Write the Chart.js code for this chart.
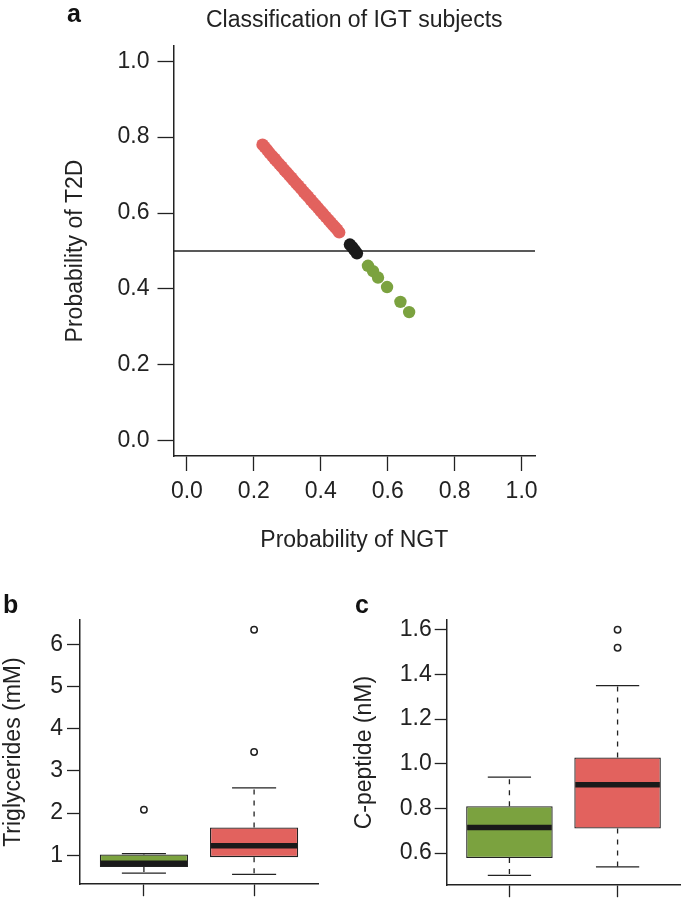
<!DOCTYPE html>
<html>
<head>
<meta charset="utf-8">
<title>Classification of IGT subjects</title>
<script src="https://cdn.jsdelivr.net/npm/chart.js@4.4.1/dist/chart.umd.min.js"></script>
<style>
  body { margin: 0; background: #fff; }
  #pagina { position: relative; width: 685px; height: 902px; overflow: hidden; }
  .panel { position: absolute; }
  .letra { position: absolute; font-family: "Liberation Sans", Arial, sans-serif; font-weight: bold; font-size: 25px; line-height: 1; color: #111; }
</style>
</head>
<body>
<div id="pagina">
  <canvas id="graficaA" class="panel" width="685" height="570" style="left:0;top:0"></canvas>
  <canvas id="graficaB" class="panel" width="340" height="322" style="left:0;top:580px"></canvas>
  <canvas id="graficaC" class="panel" width="345" height="322" style="left:340px;top:580px"></canvas>
  <div class="letra" style="left:67px;top:1px">a</div>
  <div class="letra" style="left:3px;top:592px">b</div>
  <div class="letra" style="left:355px;top:592px">c</div>
</div>
<script>
const ROJO = "#E2625E";
const VERDE = "#7BA23F";
const NEGRO = "#1A1A1A";
const TINTA = "#222";

// --- a: probabilidades (x = NGT, y = T2D)
const probTicks = [0, 0.2, 0.4, 0.6, 0.8, 1.0];
const probRango = [-0.04, 1.04];
const umbral = 0.5;

const t2dNgt = [0.226, 0.232, 0.240, 0.247, 0.255, 0.262, 0.268, 0.276, 0.283, 0.291, 0.298,
                0.305, 0.312, 0.318, 0.326, 0.333, 0.341, 0.349, 0.356, 0.362, 0.370, 0.378,
                0.385, 0.392, 0.400, 0.407, 0.415, 0.423, 0.430, 0.437, 0.443, 0.449, 0.455];
const t2dT2d = [0.780, 0.774, 0.766, 0.758, 0.750, 0.743, 0.737, 0.729, 0.722, 0.714, 0.707,
                0.700, 0.693, 0.687, 0.679, 0.672, 0.664, 0.656, 0.649, 0.643, 0.635, 0.627,
                0.620, 0.613, 0.605, 0.598, 0.590, 0.582, 0.575, 0.568, 0.562, 0.556, 0.549];
const bordeNgt = [0.487, 0.494, 0.501, 0.508];
const bordeT2d = [0.517, 0.510, 0.502, 0.494];
const ngtNgt = [0.541, 0.556, 0.571, 0.598, 0.638, 0.664];
const ngtT2d = [0.461, 0.447, 0.430, 0.405, 0.366, 0.339];

// --- b, c: diagramas de cajas (grupo 1 = NGT, grupo 2 = T2D)
const grupos = ["NGT", "T2D"];
const coloresGrupo = [VERDE, ROJO];
const cajasRango = [0.42, 2.58];

const trigTicks = [1, 2, 3, 4, 5, 6];
const trigMin = [0.575, 0.545];
const trigQ1 = [0.72, 0.955];
const trigMed = [0.81, 1.225];
const trigQ3 = [1.02, 1.66];
const trigMax = [1.04, 2.6];
const trigAtipGrupo = [1, 2, 2];
const trigAtipValor = [2.08, 3.45, 6.35];

const cpepTicks = [0.6, 0.8, 1.0, 1.2, 1.4, 1.6];
const cpepMin = [0.50, 0.538];
const cpepQ1 = [0.578, 0.71];
const cpepMed = [0.715, 0.906];
const cpepQ3 = [0.81, 1.028];
const cpepMax = [0.94, 1.35];
const cpepAtipGrupo = [2, 2];
const cpepAtipValor = [1.52, 1.60];

Chart.defaults.font.family = '"Liberation Sans", Arial, Helvetica, sans-serif';
Chart.defaults.font.size = 23;
Chart.defaults.color = TINTA;

function unir(xs, ys) {
    return xs.map((x, i) => ({ x: x, y: ys[i] }));
}

function linea(ctx, x1, y1, x2, y2) {
    ctx.beginPath();
    ctx.moveTo(x1, y1);
    ctx.lineTo(x2, y2);
    ctx.stroke();
}

// dibuja bigotes, topes y mediana sobre las barras flotantes (q1..q3)
function pluginBigotes(est) {
    return {
        id: "bigotes",
        afterDatasetsDraw(chart) {
            const { ctx } = chart;
            const x = chart.scales.x;
            const y = chart.scales.y;
            const barras = chart.getDatasetMeta(1).data;
            ctx.save();
            est.q1.forEach((_, i) => {
                const cx = x.getPixelForValue(i + 1);
                const ancho = barras[i].width;
                ctx.strokeStyle = TINTA;
                ctx.lineWidth = 1.3;
                ctx.setLineDash([5, 6]);
                linea(ctx, cx, y.getPixelForValue(est.q3[i]), cx, y.getPixelForValue(est.max[i]));
                linea(ctx, cx, y.getPixelForValue(est.q1[i]), cx, y.getPixelForValue(est.min[i]));
                ctx.setLineDash([]);
                const yMax = y.getPixelForValue(est.max[i]);
                const yMin = y.getPixelForValue(est.min[i]);
                linea(ctx, cx - ancho / 4, yMax, cx + ancho / 4, yMax);
                linea(ctx, cx - ancho / 4, yMin, cx + ancho / 4, yMin);
                const yMed = y.getPixelForValue(est.med[i]);
                ctx.strokeStyle = NEGRO;
                ctx.lineWidth = 5.5;
                linea(ctx, cx - ancho / 2 + 1, yMed, cx + ancho / 2 - 1, yMed);
            });
            ctx.restore();
        }
    };
}

function crearDispersion() {
    const ctx = document.getElementById("graficaA");
    const punto = { pointRadius: 6.2, pointHoverRadius: 6.2, borderWidth: 0 };

    new Chart(ctx, {
        type: "scatter",
        data: {
            datasets: [
                Object.assign({ data: unir(t2dNgt, t2dT2d), backgroundColor: ROJO }, punto),
                Object.assign({ data: unir(bordeNgt, bordeT2d), backgroundColor: NEGRO }, punto),
                Object.assign({ data: unir(ngtNgt, ngtT2d), backgroundColor: VERDE }, punto),
                {
                    type: "line",
                    data: unir(probRango, [umbral, umbral]),
                    borderColor: TINTA,
                    borderWidth: 1.3,
                    pointRadius: 0,
                    fill: false
                }
            ]
        },
        options: {
            responsive: false,
            animation: false,
            layout: { padding: { left: 61.5, top: 0, right: 150, bottom: 0 } },
            plugins: {
                legend: { display: false },
                tooltip: { enabled: false },
                title: {
                    display: true,
                    text: "Classification of IGT subjects",
                    fullSize: false,
                    color: TINTA,
                    font: { size: 23, weight: "normal" },
                    padding: { top: 7.2, bottom: 11.2 }
                }
            },
            scales: {
                x: {
                    type: "linear",
                    min: probRango[0],
                    max: probRango[1],
                    bounds: "data",
                    afterBuildTicks: eje => { eje.ticks = probTicks.map(v => ({ value: v })); },
                    afterFit: eje => { eje.height = 114; },
                    grid: { drawOnChartArea: false, tickLength: 15, tickWidth: 1.3, tickColor: TINTA },
                    border: { color: TINTA, width: 1.5 },
                    ticks: { padding: 7.2, autoSkip: false, maxRotation: 0, callback: v => v.toFixed(1) },
                    title: { display: true, text: "Probability of NGT", padding: { top: 0, bottom: 15.7 } }
                },
                y: {
                    type: "linear",
                    min: probRango[0],
                    max: probRango[1],
                    bounds: "data",
                    afterBuildTicks: eje => { eje.ticks = probTicks.map(v => ({ value: v })); },
                    afterFit: eje => { eje.width = 112; },
                    grid: { drawOnChartArea: false, tickLength: 16, tickWidth: 1.3, tickColor: TINTA },
                    border: { color: TINTA, width: 1.5 },
                    ticks: { padding: 8, autoSkip: false, callback: v => v.toFixed(1) },
                    title: { display: true, text: "Probability of T2D", padding: { top: 0, bottom: 0 } }
                }
            }
        }
    });
}

function crearDiagramaCajas(idCanvas, est, ticks, titulo, medidas) {
    const ctx = document.getElementById(idCanvas);
    if (!ctx) {
        console.warn("No se encontró el canvas:", idCanvas);
        return;
    }

    // rango del eje como en R: datos +/- 4%
    const todos = est.min.concat(est.max, est.atipValor);
    const lo = Math.min(...todos);
    const hi = Math.max(...todos);
    const margen = (hi - lo) * 0.04;

    new Chart(ctx, {
        type: "bar",
        data: {
            datasets: [
                {
                    type: "scatter",
                    data: unir(est.atipGrupo, est.atipValor),
                    pointRadius: 3.2,
                    pointHoverRadius: 3.2,
                    borderColor: TINTA,
                    borderWidth: 1.5,
                    backgroundColor: "rgba(255,255,255,0)"
                },
                {
                    data: grupos.map((g, i) => ({ x: i + 1, y: [est.q1[i], est.q3[i]] })),
                    backgroundColor: coloresGrupo,
                    borderColor: TINTA,
                    borderWidth: 1.3,
                    borderSkipped: false,
                    categoryPercentage: 0.8,
                    barPercentage: 1
                }
            ]
        },
        options: {
            responsive: false,
            animation: false,
            layout: { padding: { left: 0, top: 40, right: medidas.derecha, bottom: 0 } },
            plugins: {
                legend: { display: false },
                tooltip: { enabled: false }
            },
            scales: {
                x: {
                    type: "linear",
                    offset: false,
                    min: cajasRango[0],
                    max: cajasRango[1],
                    bounds: "data",
                    afterBuildTicks: eje => { eje.ticks = grupos.map((g, i) => ({ value: i + 1 })); },
                    afterFit: eje => { eje.height = 12; },
                    grid: { offset: false, drawOnChartArea: false, tickLength: 12, tickWidth: 1.3, tickColor: TINTA },
                    border: { color: TINTA, width: 1.5 },
                    ticks: { callback: () => "" }
                },
                y: {
                    type: "linear",
                    min: lo - margen,
                    max: hi + margen,
                    bounds: "data",
                    afterBuildTicks: eje => { eje.ticks = ticks.map(v => ({ value: v })); },
                    afterFit: eje => { eje.width = medidas.ancho; },
                    grid: { drawOnChartArea: false, tickLength: medidas.marca, tickWidth: 1.3, tickColor: TINTA },
                    border: { color: TINTA, width: 1.5 },
                    ticks: { padding: medidas.hueco, autoSkip: false, callback: medidas.formato },
                    title: { display: true, text: titulo, padding: { top: medidas.titulo, bottom: 0 } }
                }
            }
        },
        plugins: [pluginBigotes(est)]
    });
}

document.addEventListener("DOMContentLoaded", () => {
    crearDispersion();
    crearDiagramaCajas("graficaB",
        { min: trigMin, q1: trigQ1, med: trigMed, q3: trigQ3, max: trigMax, atipGrupo: trigAtipGrupo, atipValor: trigAtipValor },
        trigTicks, "Triglycerides (mM)",
        { derecha: 22, ancho: 80, marca: 13, hueco: 4, titulo: 0, formato: v => String(v) });
    crearDiagramaCajas("graficaC",
        { min: cpepMin, q1: cpepQ1, med: cpepMed, q3: cpepQ3, max: cpepMax, atipGrupo: cpepAtipGrupo, atipValor: cpepAtipValor },
        cpepTicks, "C-peptide (nM)",
        { derecha: 1, ancho: 106.7, marca: 12, hueco: 3, titulo: 11.2, formato: v => v.toFixed(1) });
});
</script>
</body>
</html>
